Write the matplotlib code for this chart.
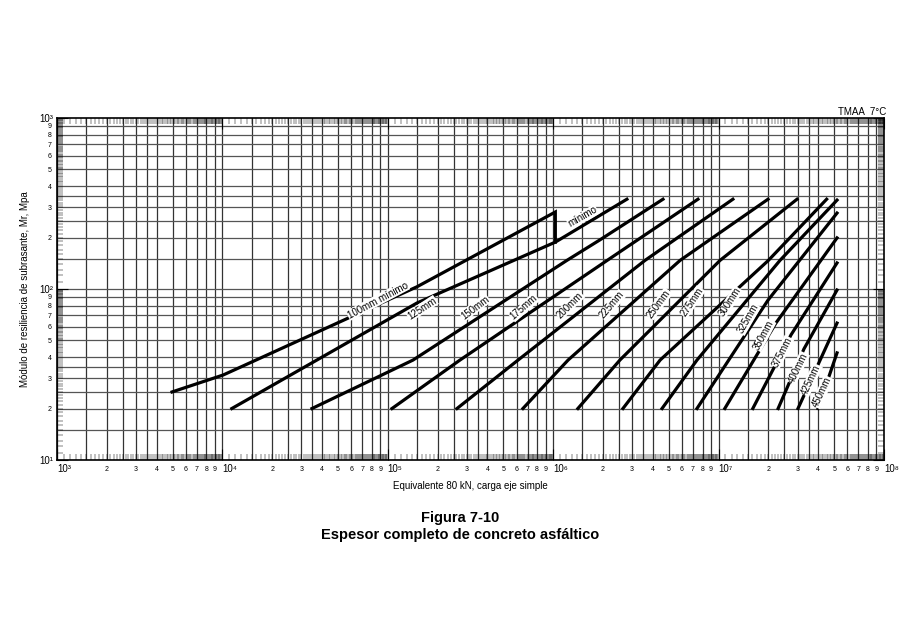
import numpy as np
import matplotlib
matplotlib.use("Agg")
import matplotlib.pyplot as plt
from matplotlib.ticker import LogLocator, FuncFormatter

plt.rcParams['font.family'] = ['Liberation Sans', 'DejaVu Sans']

# ---- data (ESAL, Mr MPa) ----
x_100 = [4.96e3, 1.01e4, 1.5e5, 1.03e6, 1.03e6]
y_100 = [25, 31.4, 103, 282, 188]
x_125 = [1.14e4, 1.5e5, 1.03e6, 2.79e6]
y_125 = [20, 82.8, 188, 335]
x_150 = [3.48e4, 1.42e5, 1.21e6, 1.92e6, 4.61e6]
y_150 = [20, 38.4, 147, 194, 335]
x_175 = [1.06e5, 2.73e5, 2.12e6, 7.5e6]
y_175 = [20, 38.4, 147, 335]
x_200 = [2.62e5, 6.13e5, 3.59e6, 1.22e7]
y_200 = [20, 38.4, 147, 335]
x_225 = [6.56e5, 1.23e6, 5.85e6, 1.99e7]
y_225 = [20, 38.4, 147, 335]
x_250 = [1.41e6, 2.53e6, 1.02e7, 2.98e7]
y_250 = [20, 38.4, 147, 335]
x_275 = [2.64e6, 4.43e6, 2.0e7, 4.5e7]
y_275 = [20, 38.4, 147, 335]
x_300 = [4.55e6, 7.4e6, 2.35e7, 5.2e7]
y_300 = [20, 38.4, 147, 331]
x_325 = [7.4e6, 1.99e7, 5.2e7]
y_325 = [20, 86.1, 278]
x_350 = [1.09e7, 2.22e7, 5.2e7]
y_350 = [20, 63.2, 199]
x_375 = [1.61e7, 2.74e7, 5.2e7]
y_375 = [20, 53.9, 142]
x_400 = [2.29e7, 3.28e7, 5.2e7]
y_400 = [20, 44.6, 98.6]
x_425 = [3.02e7, 5.2e7]
y_425 = [20, 63.2]
x_450 = [3.99e7, 5.2e7]
y_450 = [20, 42.3]

curves = [(x_100, y_100), (x_125, y_125), (x_150, y_150), (x_175, y_175),
          (x_200, y_200), (x_225, y_225), (x_250, y_250), (x_275, y_275),
          (x_300, y_300), (x_325, y_325), (x_350, y_350), (x_375, y_375),
          (x_400, y_400), (x_425, y_425), (x_450, y_450)]

label_text = ["100mm mínimo", "mínimo", "125mm", "150mm", "175mm", "200mm", "225mm",
              "250mm", "275mm", "300mm", "325mm", "350mm", "375mm", "400mm",
              "425mm", "450mm"]
label_x = [8.7e4, 1.51e6, 1.61e5, 3.37e5, 6.66e5, 1.26e6, 2.27e6, 4.36e6, 6.9e6,
           1.17e7, 1.51e7, 1.88e7, 2.42e7, 3.02e7, 3.62e7, 4.22e7]
label_y = [86, 264, 77, 78, 78, 80.6, 80.6, 82, 84, 84, 66.8, 53.8, 42.8, 34.5, 29.4, 25]
label_rot = [28, 30, 33, 37, 41, 45, 50, 54, 56, 57, 60, 62, 63, 64, 65, 65]

fig = plt.figure(figsize=(9.05, 6.4), dpi=100)
ax = fig.add_axes([57/905, 180/640, 827/905, 342/640])
ax.set_xscale('log')
ax.set_yscale('log')
ax.set_xlim(1e3, 1e8)
ax.set_ylim(10, 1000)

# grid
subs = [1, 1.5, 2, 2.5, 3, 3.5, 4, 5, 6, 7, 8, 9]
for d in range(3, 8):
    for s in subs:
        ax.axvline(s * 10**d, color='#333333', lw=0.9, zorder=1)
for d in range(1, 3):
    for s in subs:
        ax.axhline(s * 10**d, color='#555555', lw=0.9, zorder=1)

for xs, ys in curves:
    ax.plot(xs, ys, color='black', lw=2.3, solid_joinstyle='miter', zorder=3)

for t, lx, ly, r in zip(label_text, label_x, label_y, label_rot):
    ax.text(lx, ly, t, rotation=r, ha='center', va='center', fontsize=7,
            rotation_mode='anchor', zorder=4,
            bbox=dict(facecolor='white', edgecolor='none', pad=0.3))

SUP = str.maketrans("0123456789", "⁰¹²³⁴⁵⁶⁷⁸⁹")

def maj(v, pos):
    e = int(round(np.log10(v)))
    return "10" + str(e).translate(SUP)

def mino(v, pos):
    e = np.floor(np.log10(v) + 1e-9)
    m = v / 10**e
    if abs(m - round(m)) < 0.02 and 2 <= round(m) <= 9:
        return str(int(round(m)))
    return ''

for axis in (ax.xaxis, ax.yaxis):
    axis.set_major_locator(LogLocator(base=10, numticks=20))
    axis.set_major_formatter(FuncFormatter(maj))
    axis.set_minor_locator(LogLocator(base=10, subs=np.arange(1.1, 10, 0.1), numticks=200))
    axis.set_minor_formatter(FuncFormatter(mino))

ax.tick_params(which='both', direction='in', top=True, right=True)
ax.tick_params(which='major', length=8, width=0.8, labelsize=7, pad=3)
ax.tick_params(which='minor', length=4, width=0.35, labelsize=5, pad=4)
for lab in ax.get_xticklabels():
    lab.set_horizontalalignment('left')
for sp in ax.spines.values():
    sp.set_linewidth(1.2)

ax.set_xlabel("Equivalente 80 kN, carga eje simple", fontsize=7, labelpad=5)
ax.set_ylabel("Módulo de resiliencia de subrasante, Mr, Mpa", fontsize=7, labelpad=6)

fig.text(862/905, 1 - 112/640, "TMAA  7°C", fontsize=7, ha='center', va='center')
fig.text(460/905, 1 - 518/640, "Figura 7-10", fontsize=10.5, fontweight='bold', ha='center', va='center')
fig.text(460/905, 1 - 535/640, "Espesor completo de concreto asfáltico", fontsize=10.5,
         fontweight='bold', ha='center', va='center')

fig.savefig("out.png", dpi=100, facecolor='white')
